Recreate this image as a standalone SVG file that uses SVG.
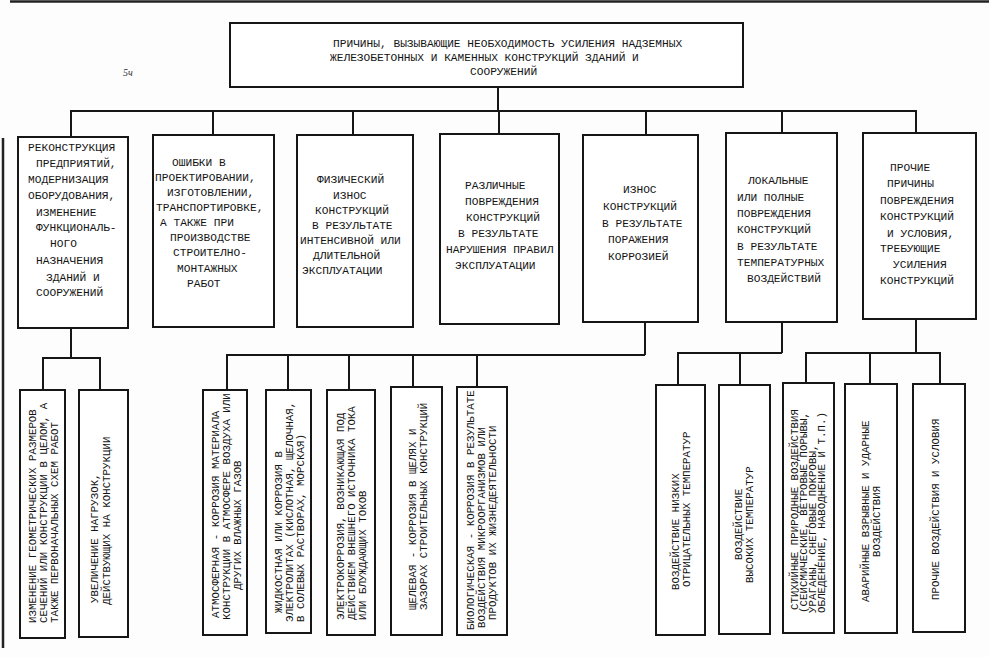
<svg xmlns="http://www.w3.org/2000/svg" width="989" height="657" viewBox="0 0 989 657">
<style>
.box{fill:#fff;stroke:#161616;stroke-width:2}
.ln{fill:none;stroke:#161616;stroke-width:2}
.t{font-family:"Liberation Mono","DejaVu Sans Mono",monospace;font-size:11.2px;fill:#141414}
.r{font-family:"Liberation Mono","DejaVu Sans Mono",monospace;font-size:10.8px;fill:#141414}
.edge{fill:none;stroke:#222;stroke-width:2.5}
</style>
<rect x="0" y="0" width="989" height="657" fill="#fdfdfd"/>
<g id="page-edges">
<line class="edge" x1="10" y1="1.5" x2="989" y2="1.5"/>
<line class="edge" x1="3" y1="138" x2="3" y2="648"/>
</g>
<text x="123" y="76" font-family="Liberation Serif, serif" font-style="italic" font-size="10px" fill="#333">5ч</text>

<g id="connectors">
<polyline class="ln" points="498,87 498,111"/>
<polyline class="ln" points="71,137 71,111 916,111 916,133"/>
<line class="ln" x1="213" y1="111" x2="213" y2="135"/>
<line class="ln" x1="353" y1="111" x2="353" y2="135"/>
<line class="ln" x1="499" y1="111" x2="499" y2="134"/>
<line class="ln" x1="646" y1="111" x2="646" y2="135"/>
<line class="ln" x1="782" y1="111" x2="782" y2="133"/>
<polyline class="ln" points="71,328 71,358"/>
<polyline class="ln" points="43,390 43,358 100,358 100,390"/>
<polyline class="ln" points="645,322 645,355"/>
<polyline class="ln" points="227,390 227,355 645,355"/>
<line class="ln" x1="288" y1="355" x2="288" y2="390"/>
<line class="ln" x1="349" y1="355" x2="349" y2="390"/>
<line class="ln" x1="413" y1="355" x2="413" y2="387"/>
<line class="ln" x1="477" y1="355" x2="477" y2="387"/>
<polyline class="ln" points="782,322 782,353"/>
<polyline class="ln" points="678,385 678,353 782,353"/>
<line class="ln" x1="740" y1="353" x2="740" y2="385"/>
<polyline class="ln" points="916,319 916,353"/>
<polyline class="ln" points="806,383 806,353 940,353 940,384"/>
<line class="ln" x1="870" y1="353" x2="870" y2="384"/>
</g>

<g id="root">
<rect class="box" x="230" y="23" width="513" height="64"/>
<text class="t" x="333" y="47">ПРИЧИНЫ, ВЫЗЫВАЮЩИЕ НЕОБХОДИМОСТЬ УСИЛЕНИЯ НАДЗЕМНЫХ</text>
<text class="t" x="330" y="61">ЖЕЛЕЗОБЕТОННЫХ И КАМЕННЫХ КОНСТРУКЦИЙ ЗДАНИЙ И</text>
<text class="t" x="470" y="75">СООРУЖЕНИЙ</text>
</g>

<g id="n1">
<rect class="box" x="18" y="137" width="110" height="191"/>
<text class="t" x="28" y="151">РЕКОНСТРУКЦИЯ</text>
<text class="t" x="36" y="167">ПРЕДПРИЯТИЙ,</text>
<text class="t" x="28" y="183">МОДЕРНИЗАЦИЯ</text>
<text class="t" x="28" y="199">ОБОРУДОВАНИЯ,</text>
<text class="t" x="36" y="216">ИЗМЕНЕНИЕ</text>
<text class="t" x="36" y="231">ФУНКЦИОНАЛЬ-</text>
<text class="t" x="50" y="247">НОГО</text>
<text class="t" x="36" y="264">НАЗНАЧЕНИЯ</text>
<text class="t" x="46" y="281">ЗДАНИЙ И</text>
<text class="t" x="36" y="296">СООРУЖЕНИЙ</text>
</g>

<g id="n2">
<rect class="box" x="153" y="135" width="121" height="192"/>
<text class="t" x="172" y="166">ОШИБКИ В</text>
<text class="t" x="155" y="181">ПРОЕКТИРОВАНИИ,</text>
<text class="t" x="167" y="196">ИЗГОТОВЛЕНИИ,</text>
<text class="t" x="156" y="211">ТРАНСПОРТИРОВКЕ,</text>
<text class="t" x="160" y="226">А ТАКЖЕ ПРИ</text>
<text class="t" x="170" y="241">ПРОИЗВОДСТВЕ</text>
<text class="t" x="173" y="256">СТРОИТЕЛНО-</text>
<text class="t" x="177" y="272">МОНТАЖНЫХ</text>
<text class="t" x="187" y="287">РАБОТ</text>
</g>

<g id="n3">
<rect class="box" x="297" y="135" width="116" height="192"/>
<text class="t" x="317" y="183">ФИЗИЧЕСКИЙ</text>
<text class="t" x="333" y="199">ИЗНОС</text>
<text class="t" x="315" y="214">КОНСТРУКЦИЙ</text>
<text class="t" x="312" y="229">В РЕЗУЛЬТАТЕ</text>
<text class="t" x="300" y="244">ИНТЕНСИВНОЙ ИЛИ</text>
<text class="t" x="313" y="259">ДЛИТЕЛЬНОЙ</text>
<text class="t" x="302" y="274">ЭКСПЛУАТАЦИИ</text>
</g>

<g id="n4">
<rect class="box" x="440" y="134" width="119" height="190"/>
<text class="t" x="465" y="189">РАЗЛИЧНЫЕ</text>
<text class="t" x="465" y="205">ПОВРЕЖДЕНИЯ</text>
<text class="t" x="466" y="221">КОНСТРУКЦИЙ</text>
<text class="t" x="458" y="237">В РЕЗУЛЬТАТЕ</text>
<text class="t" x="446" y="253">НАРУШЕНИЯ ПРАВИЛ</text>
<text class="t" x="455" y="269">ЭКСПЛУАТАЦИИ</text>
</g>

<g id="n5">
<rect class="box" x="583" y="135" width="115" height="187"/>
<text class="t" x="623" y="193">ИЗНОС</text>
<text class="t" x="603" y="210">КОНСТРУКЦИЙ</text>
<text class="t" x="602" y="227">В РЕЗУЛЬТАТЕ</text>
<text class="t" x="608" y="243">ПОРАЖЕНИЯ</text>
<text class="t" x="608" y="260">КОРРОЗИЕЙ</text>
</g>

<g id="n6">
<rect class="box" x="726" y="133" width="111" height="189"/>
<text class="t" x="748" y="184">ЛОКАЛЬНЫЕ</text>
<text class="t" x="737" y="201">ИЛИ ПОЛНЫЕ</text>
<text class="t" x="737" y="217">ПОВРЕЖДЕНИЯ</text>
<text class="t" x="737" y="233">КОНСТРУКЦИЙ</text>
<text class="t" x="737" y="250">В РЕЗУЛЬТАТЕ</text>
<text class="t" x="737" y="266">ТЕМПЕРАТУРНЫХ</text>
<text class="t" x="747" y="282">ВОЗДЕЙСТВИЙ</text>
</g>

<g id="n7">
<rect class="box" x="863" y="133" width="113" height="186"/>
<text class="t" x="890" y="171">ПРОЧИЕ</text>
<text class="t" x="887" y="187">ПРИЧИНЫ</text>
<text class="t" x="880" y="204">ПОВРЕЖДЕНИЯ</text>
<text class="t" x="880" y="220">КОНСТРУКЦИЙ</text>
<text class="t" x="887" y="237">И УСЛОВИЯ,</text>
<text class="t" x="880" y="252">ТРЕБУЮЩИЕ</text>
<text class="t" x="893" y="268">УСИЛЕНИЯ</text>
<text class="t" x="880" y="284">КОНСТРУКЦИЙ</text>
</g>

<g id="b1">
<rect class="box" x="20" y="390" width="45" height="248"/>
<text class="r" transform="translate(35.5,623) rotate(-90)">ИЗМЕНЕНИЕ ГЕОМЕТРИЧЕСКИХ РАЗМЕРОВ</text>
<text class="r" transform="translate(46.5,623) rotate(-90)">СЕЧЕНИЙ ИЛИ КОНСТРУКЦИИ В ЦЕЛОМ, А</text>
<text class="r" transform="translate(58,623) rotate(-90)">ТАКЖЕ ПЕРВОНАЧАЛЬНЫХ СХЕМ РАБОТ</text>
</g>

<g id="b2">
<rect class="box" x="79" y="390" width="49" height="247"/>
<text class="r" transform="translate(97.5,603) rotate(-90)">УВЕЛИЧЕНИЕ НАГРУЗОК,</text>
<text class="r" transform="translate(109.5,605) rotate(-90)">ДЕЙСТВУЮЩИХ НА КОНСТРУКЦИИ</text>
</g>

<g id="b3">
<rect class="box" x="203" y="390" width="44" height="245"/>
<text class="r" transform="translate(218.5,618) rotate(-90)">АТМОСФЕРНАЯ - КОРРОЗИЯ МАТЕРИАЛА</text>
<text class="r" transform="translate(229.5,620) rotate(-90)">КОНСТРУКЦИИ В АТМОСФЕРЕ ВОЗДУХА ИЛИ</text>
<text class="r" transform="translate(240.5,590) rotate(-90)">ДРУГИХ ВЛАЖНЫХ ГАЗОВ</text>
</g>

<g id="b4">
<rect class="box" x="266" y="390" width="45" height="243"/>
<text class="r" transform="translate(281.5,613) rotate(-90)">ЖИДКОСТНАЯ ИЛИ КОРРОЗИЯ В</text>
<text class="r" transform="translate(292.5,622) rotate(-90)">ЭЛЕКТРОЛИТАХ (КИСЛОТНАЯ, ЩЕЛОЧНАЯ,</text>
<text class="r" transform="translate(303.5,622) rotate(-90)">В СОЛЕВЫХ РАСТВОРАХ, МОРСКАЯ)</text>
</g>

<g id="b5">
<rect class="box" x="327" y="390" width="48" height="245"/>
<text class="r" transform="translate(343.5,620) rotate(-90)">ЭЛЕКТРОКОРРОЗИЯ, ВОЗНИКАЮЩАЯ ПОД</text>
<text class="r" transform="translate(354.5,620) rotate(-90)">ДЕЙСТВИЕМ ВНЕШНЕГО ИСТОЧНИКА ТОКА</text>
<text class="r" transform="translate(365.5,620) rotate(-90)">ИЛИ БЛУЖДАЮЩИХ ТОКОВ</text>
</g>

<g id="b6">
<rect class="box" x="391" y="387" width="51" height="248"/>
<text class="r" transform="translate(416,610) rotate(-90)">ЩЕЛЕВАЯ - КОРРОЗИЯ В ЩЕЛЯХ И</text>
<text class="r" transform="translate(427,610) rotate(-90)">ЗАЗОРАХ СТРОИТЕЛЬНЫХ КОНСТРУКЦИЙ</text>
</g>

<g id="b7">
<rect class="box" x="457" y="387" width="50" height="248"/>
<text class="r" transform="translate(473.5,630) rotate(-90)">БИОЛОГИЧЕСКАЯ - КОРРОЗИЯ В РЕЗУЛЬТАТЕ</text>
<text class="r" transform="translate(484.5,628) rotate(-90)">ВОЗДЕЙСТВИЯ МИКРООРГАНИЗМОВ ИЛИ</text>
<text class="r" transform="translate(495.5,620) rotate(-90)">ПРОДУКТОВ ИХ ЖИЗНЕДЕЯТЕЛЬНОСТИ</text>
</g>

<g id="b8">
<rect class="box" x="656" y="385" width="49" height="250"/>
<text class="r" transform="translate(678.5,590) rotate(-90)">ВОЗДЕЙСТВИЕ НИЗКИХ</text>
<text class="r" transform="translate(689.5,587) rotate(-90)">ОТРИЦАТЕЛЬНЫХ ТЕМПЕРАТУР</text>
</g>

<g id="b9">
<rect class="box" x="719" y="385" width="51" height="249"/>
<text class="r" transform="translate(741.5,560) rotate(-90)">ВОЗДЕЙСТВИЕ</text>
<text class="r" transform="translate(752.5,583) rotate(-90)">ВЫСОКИХ ТЕМПЕРАТУР</text>
</g>

<g id="b10">
<rect class="box" x="783" y="383" width="51" height="250"/>
<text class="r" transform="translate(797.5,610) rotate(-90)">СТИХИЙНЫЕ ПРИРОДНЫЕ ВОЗДЕЙСТВИЯ</text>
<text class="r" transform="translate(806.5,613) rotate(-90)">(СЕЙСМИЧЕСКИЕ, ВЕТРОВЫЕ ПОРЫВЫ,</text>
<text class="r" transform="translate(815.5,613) rotate(-90)">УРАГАНЫ, СНЕГОВЫЕ ПОКРОВЫ,</text>
<text class="r" transform="translate(824.5,613) rotate(-90)">ОБЛЕДЕНЕНИЕ, НАВОДНЕНИЕ И Т.П.)</text>
</g>

<g id="b11">
<rect class="box" x="845" y="384" width="52" height="249"/>
<text class="r" transform="translate(868.5,602) rotate(-90)">АВАРИЙНЫЕ ВЗРЫВНЫЕ И УДАРНЫЕ</text>
<text class="r" transform="translate(879.5,557) rotate(-90)">ВОЗДЕЙСТВИЯ</text>
</g>

<g id="b12">
<rect class="box" x="913" y="384" width="52" height="248"/>
<text class="r" transform="translate(938.5,600) rotate(-90)">ПРОЧИЕ ВОЗДЕЙСТВИЯ И УСЛОВИЯ</text>
</g>
</svg>
